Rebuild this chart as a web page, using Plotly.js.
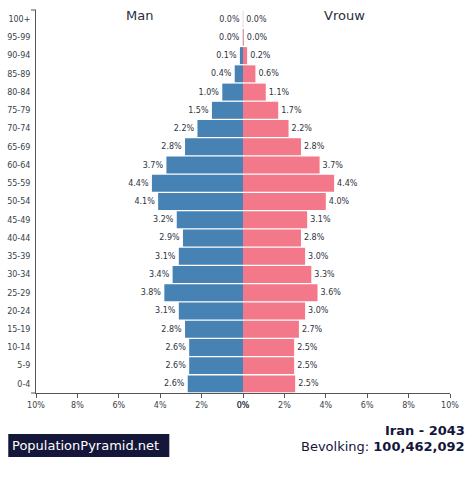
<!DOCTYPE html>
<html><head><meta charset="utf-8">
<script src="https://cdn.plot.ly/plotly-3.0.1.min.js"></script>
<style>html,body{margin:0;padding:0;background:#fff}#c{width:474px;height:478px}</style>
</head><body><div id="c"></div>
<script>
const ageGroups=["0-4","5-9","10-14","15-19","20-24","25-29","30-34","35-39","40-44","45-49","50-54","55-59","60-64","65-69","70-74","75-79","80-84","85-89","90-94","95-99","100+"];
const maleValues=[2.67,2.6,2.6,2.8,3.1,3.8,3.4,3.1,2.9,3.2,4.1,4.4,3.7,2.8,2.2,1.5,1.0,0.4,0.15,0.01,0.005];
const femaleValues=[2.52,2.47,2.47,2.7,3.0,3.6,3.3,3.0,2.8,3.1,4.0,4.4,3.7,2.8,2.2,1.7,1.1,0.6,0.2,0.04,0.01];
const maleLabels=["2.6%","2.6%","2.6%","2.8%","3.1%","3.8%","3.4%","3.1%","2.9%","3.2%","4.1%","4.4%","3.7%","2.8%","2.2%","1.5%","1.0%","0.4%","0.1%","0.0%","0.0%"];
const femaleLabels=["2.5%","2.5%","2.5%","2.7%","3.0%","3.6%","3.3%","3.0%","2.8%","3.1%","4.0%","4.4%","3.7%","2.8%","2.2%","1.7%","1.1%","0.6%","0.2%","0.0%","0.0%"];
const xTicks=[0,2,4,6,8,10];
const xTickLabels=["0%","2%","4%","6%","8%","10%"];
const ink="#3a3f4a";
const font={family:"DejaVu Sans",size:8,color:ink};
const bar=(x,text,color,xa)=>({type:"bar",orientation:"h",x,y:ageGroups,text,xaxis:xa,yaxis:"y",
  marker:{color,line:{width:0}},textposition:"outside",textfont:{family:"DejaVu Sans",size:8,color:"#2e3340"},
  cliponaxis:false,hoverinfo:"skip",showlegend:false,constraintext:"none"});
const xax=(domain,range)=>({domain,range,tickvals:xTicks,ticktext:xTickLabels,ticks:"outside",ticklen:4,tickwidth:1,tickcolor:"#555",
  showline:true,linecolor:"#555",linewidth:1,showgrid:false,zeroline:false,tickfont:font,anchor:"y",fixedrange:true});
const layout={width:474,height:478,margin:{l:36,r:24,t:10,b:85,pad:0},paper_bgcolor:"#fff",plot_bgcolor:"#fff",
  bargap:0.07,showlegend:false,
  xaxis:xax([0,0.5],[10,0]),xaxis2:xax([0.5,1],[0,10]),
  yaxis:{type:"category",categoryorder:"array",categoryarray:ageGroups,showline:true,linecolor:"#555",linewidth:1,ticks:"",showgrid:false,zeroline:false,tickfont:font,ticklabelstandoff:3,anchor:"x",fixedrange:true},
  shapes:[
    {type:"line",xref:"paper",yref:"paper",x0:-0.012,x1:0,y0:1,y1:1,line:{color:"#555",width:1}},
    {type:"line",xref:"paper",yref:"paper",x0:-0.012,x1:0,y0:0,y1:0,line:{color:"#555",width:1}},
    {type:"rect",xref:"paper",yref:"paper",x0:-0.067,x1:0.322,y0:-0.167,y1:-0.107,fillcolor:"#14163a",line:{width:0}}
  ],
  annotations:[
    {text:"Man",xref:"paper",yref:"paper",x:0.25,y:1.0,yanchor:"middle",xanchor:"center",yshift:-5,showarrow:false,font:{family:"DejaVu Sans",size:13,color:"#2a2e3a"}},
    {text:"Vrouw",xref:"paper",yref:"paper",x:0.746,y:1.0,yanchor:"middle",xanchor:"center",yshift:-5,showarrow:false,font:{family:"DejaVu Sans",size:13,color:"#2a2e3a"}},
    {text:"PopulationPyramid.net",xref:"paper",yref:"paper",x:-0.064,y:-0.137,xanchor:"left",yanchor:"middle",showarrow:false,font:{family:"DejaVu Sans",size:13,color:"#fff"}},
    {text:"<b>Iran - 2043</b>",xref:"paper",yref:"paper",x:1.042,y:-0.097,xanchor:"right",yanchor:"middle",showarrow:false,font:{family:"DejaVu Sans",size:13,color:"#14163a"}},
    {text:"Bevolking: <b>100,462,092</b>",xref:"paper",yref:"paper",x:1.042,y:-0.139,xanchor:"right",yanchor:"middle",showarrow:false,font:{family:"DejaVu Sans",size:13,color:"#14163a"}}
  ]};
Plotly.newPlot("c",[bar(maleValues,maleLabels,"#4682b4","x"),bar(femaleValues,femaleLabels,"#f2788a","x2")],layout,{displayModeBar:false,staticPlot:true});
</script></body></html>
